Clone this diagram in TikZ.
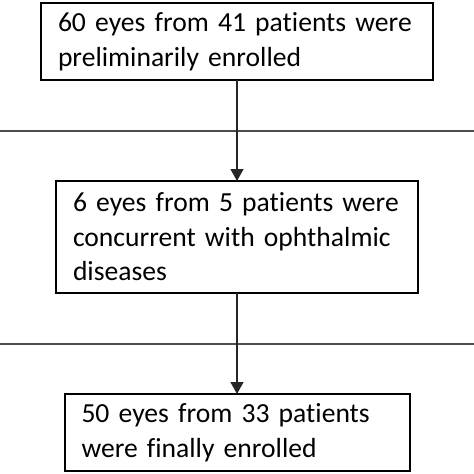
\documentclass[tikz,border=0pt]{standalone}
\usepackage{fontspec}
\setmainfont{Carlito}[Ligatures=CommonOff]
\usetikzlibrary{arrows.meta,positioning}

\begin{document}
\begin{tikzpicture}[x=1pt, y=1pt,
      node distance=101pt,
      stage/.style={draw=black, line width=2pt, align=left, outer sep=0pt,
        inner xsep=17pt, inner ysep=0pt, minimum height=77pt,
        font=\fontsize{27.6}{34.5}\selectfont},
      arrow/.style={-{Triangle[length=12pt, width=13pt]}, line width=1.3pt, draw=black!85},
      cut/.style={line width=1.4pt, draw=black!70}
    ]
      \path[use as bounding box] (0,0) rectangle (474,-474);
      \node[stage, text width=358pt] (enrol) at (237,-41.5) {60 eyes from 41 patients were\\preliminarily enrolled};
      \node[stage, text width=328pt, minimum height=112pt, below=of enrol] (excl) {6 eyes from 5 patients were\\concurrent with ophthalmic\\diseases};
      \node[stage, text width=311pt, below=of excl] (final) {50 eyes from 33 patients\\were finally enrolled};
      \coordinate[below=51pt of enrol.south] (cutA);
      \coordinate[below=51pt of excl.south] (cutB);
      \draw[cut] (0,0 |- cutA) -- (474,0 |- cutA);
      \draw[cut] (0,0 |- cutB) -- (474,0 |- cutB);
      \draw[arrow] (enrol) -- (excl);
      \draw[arrow] (excl) -- (final);
    \end{tikzpicture}
\end{document}
